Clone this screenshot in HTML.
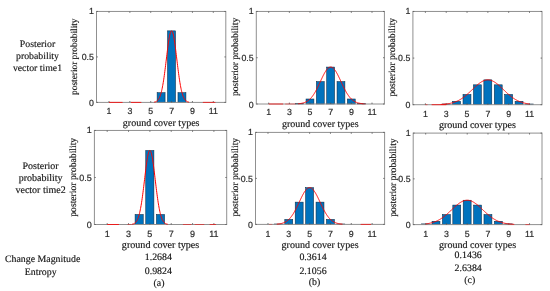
<!DOCTYPE html>
<html><head><meta charset="utf-8"><title>Figure</title>
<style>
html,body{margin:0;padding:0;background:#fff}
svg{display:block;text-rendering:geometricPrecision}
.t{font-family:"Liberation Sans",sans-serif;font-size:8.8px;fill:#2b2b2b;stroke:#2b2b2b;stroke-width:0.2px}
.s{font-family:"Liberation Serif",serif;font-size:9.8px;fill:#141414;stroke:#141414;stroke-width:0.15px}
.b{font-family:"Liberation Serif",serif;font-size:9.9px;fill:#141414;stroke:#141414;stroke-width:0.15px}
</style></head><body>
<svg width="550" height="291" viewBox="0 0 550 291">
<rect width="550" height="291" fill="#fff"/>
<g>
<rect x="157.13" y="92.72" width="7.94" height="9.68" fill="#0072BD" stroke="#0b2a45" stroke-width="0.55"/>
<rect x="167.56" y="30.86" width="7.94" height="71.54" fill="#0072BD" stroke="#0b2a45" stroke-width="0.55"/>
<rect x="177.98" y="92.72" width="7.94" height="9.68" fill="#0072BD" stroke="#0b2a45" stroke-width="0.55"/>
<rect x="96.50" y="11.45" width="129.30" height="90.95" fill="none" stroke="#909090" stroke-width="1"/>
<path d="M109.01 102.40v-1.4M109.01 11.45v1.4M129.87 102.40v-1.4M129.87 11.45v1.4M150.72 102.40v-1.4M150.72 11.45v1.4M171.58 102.40v-1.4M171.58 11.45v1.4M192.43 102.40v-1.4M192.43 11.45v1.4M213.29 102.40v-1.4M213.29 11.45v1.4M96.50 102.40h1.4M225.80 102.40h-1.4M96.50 56.93h1.4M225.80 56.93h-1.4M96.50 11.45h1.4M225.80 11.45h-1.4" stroke="#555" stroke-width="0.8" fill="none"/>
<line x1="109.01" y1="102.40" x2="122.57" y2="102.40" stroke="#f00" stroke-width="1" stroke-opacity="0.8"/>
<line x1="130.91" y1="102.40" x2="141.34" y2="102.40" stroke="#f00" stroke-width="1" stroke-opacity="0.8"/>
<line x1="202.86" y1="102.40" x2="215.37" y2="102.40" stroke="#f00" stroke-width="1" stroke-opacity="0.7"/>
<polyline points="154.11,102.14 154.37,102.09 154.63,102.04 154.89,101.97 155.15,101.90 155.41,101.81 155.68,101.72 155.94,101.61 156.20,101.48 156.46,101.33 156.72,101.17 156.98,100.98 157.24,100.77 157.50,100.53 157.76,100.26 158.02,99.96 158.28,99.63 158.54,99.26 158.80,98.84 159.06,98.38 159.33,97.88 159.59,97.32 159.85,96.71 160.11,96.04 160.37,95.31 160.63,94.51 160.89,93.65 161.15,92.72 161.41,91.71 161.67,90.63 161.93,89.48 162.19,88.24 162.45,86.93 162.71,85.54 162.97,84.06 163.24,82.51 163.50,80.88 163.76,79.17 164.02,77.40 164.28,75.55 164.54,73.64 164.80,71.67 165.06,69.65 165.32,67.58 165.58,65.47 165.84,63.33 166.10,61.18 166.36,59.01 166.62,56.84 166.89,54.69 167.15,52.55 167.41,50.45 167.67,48.40 167.93,46.41 168.19,44.48 168.45,42.65 168.71,40.90 168.97,39.27 169.23,37.75 169.49,36.36 169.75,35.11 170.01,34.01 170.27,33.06 170.53,32.28 170.80,31.66 171.06,31.22 171.32,30.95 171.58,30.86 171.84,30.95 172.10,31.22 172.36,31.66 172.62,32.28 172.88,33.06 173.14,34.01 173.40,35.11 173.66,36.36 173.92,37.75 174.18,39.27 174.44,40.90 174.71,42.65 174.97,44.48 175.23,46.41 175.49,48.40 175.75,50.45 176.01,52.55 176.27,54.69 176.53,56.84 176.79,59.01 177.05,61.18 177.31,63.33 177.57,65.47 177.83,67.58 178.09,69.65 178.36,71.67 178.62,73.64 178.88,75.55 179.14,77.40 179.40,79.17 179.66,80.88 179.92,82.51 180.18,84.06 180.44,85.54 180.70,86.93 180.96,88.24 181.22,89.48 181.48,90.63 181.74,91.71 182.00,92.72 182.27,93.65 182.53,94.51 182.79,95.31 183.05,96.04 183.31,96.71 183.57,97.32 183.83,97.88 184.09,98.38 184.35,98.84 184.61,99.26 184.87,99.63 185.13,99.96 185.39,100.26 185.65,100.53 185.92,100.77 186.18,100.98 186.44,101.17 186.70,101.33 186.96,101.48 187.22,101.61 187.48,101.72 187.74,101.81 188.00,101.90 188.26,101.97 188.52,102.04 188.78,102.09 189.04,102.14" fill="none" stroke="#f00" stroke-width="1" stroke-linejoin="round"/>
<text x="109.01" y="113.90" class="t" style="font-size:8.80px" text-anchor="middle">1</text>
<text x="129.87" y="113.90" class="t" style="font-size:8.80px" text-anchor="middle">3</text>
<text x="150.72" y="113.90" class="t" style="font-size:8.80px" text-anchor="middle">5</text>
<text x="171.58" y="113.90" class="t" style="font-size:8.80px" text-anchor="middle">7</text>
<text x="192.43" y="113.90" class="t" style="font-size:8.80px" text-anchor="middle">9</text>
<text x="213.29" y="113.90" class="t" style="font-size:8.80px" text-anchor="middle">11</text>
<text x="93.90" y="105.95" class="t" style="font-size:8.80px" text-anchor="end">0</text>
<text x="93.90" y="60.18" class="t" style="font-size:8.80px" text-anchor="end">0.5</text>
<text x="93.90" y="14.40" class="t" style="font-size:8.80px" text-anchor="end">1</text>
<text x="161.15" y="125.60" class="s" style="font-size:10.00px" text-anchor="middle">ground cover types</text>
<text transform="translate(76.78,56.70) rotate(-90)" class="s" style="font-size:9.34px" text-anchor="middle">posterior probability</text>
</g>
<g>
<rect x="295.71" y="103.59" width="7.86" height="0.41" fill="#0072BD" stroke="#0b2a45" stroke-width="0.55"/>
<rect x="306.04" y="99.00" width="7.86" height="5.00" fill="#0072BD" stroke="#0b2a45" stroke-width="0.55"/>
<rect x="316.37" y="81.61" width="7.86" height="22.39" fill="#0072BD" stroke="#0b2a45" stroke-width="0.55"/>
<rect x="326.70" y="67.08" width="7.86" height="36.92" fill="#0072BD" stroke="#0b2a45" stroke-width="0.55"/>
<rect x="337.03" y="81.61" width="7.86" height="22.39" fill="#0072BD" stroke="#0b2a45" stroke-width="0.55"/>
<rect x="347.36" y="99.00" width="7.86" height="5.00" fill="#0072BD" stroke="#0b2a45" stroke-width="0.55"/>
<rect x="357.69" y="103.59" width="7.86" height="0.41" fill="#0072BD" stroke="#0b2a45" stroke-width="0.55"/>
<rect x="256.30" y="11.45" width="128.10" height="92.55" fill="none" stroke="#909090" stroke-width="1"/>
<path d="M268.70 104.00v-1.4M268.70 11.45v1.4M289.36 104.00v-1.4M289.36 11.45v1.4M310.02 104.00v-1.4M310.02 11.45v1.4M330.68 104.00v-1.4M330.68 11.45v1.4M351.34 104.00v-1.4M351.34 11.45v1.4M372.00 104.00v-1.4M372.00 11.45v1.4M256.30 104.00h1.4M384.40 104.00h-1.4M256.30 57.73h1.4M384.40 57.73h-1.4M256.30 11.45h1.4M384.40 11.45h-1.4" stroke="#555" stroke-width="0.8" fill="none"/>
<line x1="268.70" y1="104.00" x2="283.16" y2="104.00" stroke="#f00" stroke-width="1" stroke-opacity="0.75"/>
<line x1="285.23" y1="104.00" x2="295.56" y2="104.00" stroke="#f00" stroke-width="1" stroke-opacity="0.45"/>
<line x1="362.71" y1="104.00" x2="365.80" y2="104.00" stroke="#f00" stroke-width="1" stroke-opacity="0.4"/>
<polyline points="298.14,103.74 298.40,103.72 298.66,103.70 298.91,103.67 299.17,103.65 299.43,103.62 299.69,103.59 299.95,103.56 300.21,103.52 300.46,103.49 300.72,103.45 300.98,103.41 301.24,103.36 301.50,103.32 301.75,103.27 302.01,103.21 302.27,103.16 302.53,103.10 302.79,103.04 303.05,102.97 303.30,102.90 303.56,102.82 303.82,102.74 304.08,102.66 304.34,102.57 304.60,102.48 304.85,102.38 305.11,102.27 305.37,102.16 305.63,102.05 305.89,101.93 306.15,101.80 306.40,101.67 306.66,101.53 306.92,101.38 307.18,101.22 307.44,101.06 307.69,100.89 307.95,100.72 308.21,100.53 308.47,100.34 308.73,100.14 308.99,99.93 309.24,99.71 309.50,99.48 309.76,99.25 310.02,99.00 310.28,98.75 310.54,98.48 310.79,98.21 311.05,97.93 311.31,97.63 311.57,97.33 311.83,97.02 312.09,96.69 312.34,96.36 312.60,96.02 312.86,95.66 313.12,95.30 313.38,94.92 313.64,94.54 313.89,94.14 314.15,93.73 314.41,93.32 314.67,92.89 314.93,92.46 315.18,92.01 315.44,91.56 315.70,91.10 315.96,90.62 316.22,90.14 316.48,89.65 316.73,89.16 316.99,88.65 317.25,88.14 317.51,87.62 317.77,87.10 318.03,86.56 318.28,86.03 318.54,85.49 318.80,84.94 319.06,84.39 319.32,83.84 319.58,83.28 319.83,82.72 320.09,82.17 320.35,81.61 320.61,81.05 320.87,80.49 321.12,79.93 321.38,79.37 321.64,78.82 321.90,78.27 322.16,77.73 322.42,77.19 322.67,76.66 322.93,76.13 323.19,75.61 323.45,75.10 323.71,74.60 323.97,74.11 324.22,73.63 324.48,73.16 324.74,72.70 325.00,72.26 325.26,71.83 325.52,71.42 325.77,71.02 326.03,70.63 326.29,70.27 326.55,69.92 326.81,69.58 327.06,69.27 327.32,68.98 327.58,68.70 327.84,68.45 328.10,68.21 328.36,68.00 328.61,67.81 328.87,67.64 329.13,67.49 329.39,67.37 329.65,67.26 329.91,67.18 330.16,67.12 330.42,67.09 330.68,67.08 330.94,67.09 331.20,67.12 331.46,67.18 331.71,67.26 331.97,67.37 332.23,67.49 332.49,67.64 332.75,67.81 333.01,68.00 333.26,68.21 333.52,68.45 333.78,68.70 334.04,68.98 334.30,69.27 334.55,69.58 334.81,69.92 335.07,70.27 335.33,70.63 335.59,71.02 335.85,71.42 336.10,71.83 336.36,72.26 336.62,72.70 336.88,73.16 337.14,73.63 337.40,74.11 337.65,74.60 337.91,75.10 338.17,75.61 338.43,76.13 338.69,76.66 338.95,77.19 339.20,77.73 339.46,78.27 339.72,78.82 339.98,79.37 340.24,79.93 340.49,80.49 340.75,81.05 341.01,81.61 341.27,82.17 341.53,82.72 341.79,83.28 342.04,83.84 342.30,84.39 342.56,84.94 342.82,85.49 343.08,86.03 343.34,86.56 343.59,87.10 343.85,87.62 344.11,88.14 344.37,88.65 344.63,89.16 344.89,89.65 345.14,90.14 345.40,90.62 345.66,91.10 345.92,91.56 346.18,92.01 346.43,92.46 346.69,92.89 346.95,93.32 347.21,93.73 347.47,94.14 347.73,94.54 347.98,94.92 348.24,95.30 348.50,95.66 348.76,96.02 349.02,96.36 349.28,96.69 349.53,97.02 349.79,97.33 350.05,97.63 350.31,97.93 350.57,98.21 350.83,98.48 351.08,98.75 351.34,99.00 351.60,99.25 351.86,99.48 352.12,99.71 352.38,99.93 352.63,100.14 352.89,100.34 353.15,100.53 353.41,100.72 353.67,100.89 353.92,101.06 354.18,101.22 354.44,101.38 354.70,101.53 354.96,101.67 355.22,101.80 355.47,101.93 355.73,102.05 355.99,102.16 356.25,102.27 356.51,102.38 356.77,102.48 357.02,102.57 357.28,102.66 357.54,102.74 357.80,102.82 358.06,102.90 358.32,102.97 358.57,103.04 358.83,103.10 359.09,103.16 359.35,103.21 359.61,103.27 359.86,103.32 360.12,103.36 360.38,103.41 360.64,103.45 360.90,103.49 361.16,103.52 361.41,103.56 361.67,103.59 361.93,103.62 362.19,103.65 362.45,103.67 362.71,103.70 362.96,103.72 363.22,103.74" fill="none" stroke="#f00" stroke-width="1" stroke-linejoin="round"/>
<text x="268.70" y="115.40" class="t" style="font-size:8.80px" text-anchor="middle">1</text>
<text x="289.36" y="115.40" class="t" style="font-size:8.80px" text-anchor="middle">3</text>
<text x="310.02" y="115.40" class="t" style="font-size:8.80px" text-anchor="middle">5</text>
<text x="330.68" y="115.40" class="t" style="font-size:8.80px" text-anchor="middle">7</text>
<text x="351.34" y="115.40" class="t" style="font-size:8.80px" text-anchor="middle">9</text>
<text x="372.00" y="115.40" class="t" style="font-size:8.80px" text-anchor="middle">11</text>
<text x="253.70" y="107.55" class="t" style="font-size:8.80px" text-anchor="end">0</text>
<text x="253.70" y="60.98" class="t" style="font-size:8.80px" text-anchor="end">0.5</text>
<text x="253.70" y="14.40" class="t" style="font-size:8.80px" text-anchor="end">1</text>
<text x="320.35" y="127.20" class="s" style="font-size:10.00px" text-anchor="middle">ground cover types</text>
<text transform="translate(237.82,56.90) rotate(-90)" class="s" style="font-size:9.54px" text-anchor="middle">posterior probability</text>
</g>
<g>
<rect x="442.20" y="103.99" width="7.93" height="0.71" fill="#0072BD" stroke="#0b2a45" stroke-width="0.55"/>
<rect x="452.61" y="101.34" width="7.93" height="3.36" fill="#0072BD" stroke="#0b2a45" stroke-width="0.55"/>
<rect x="463.02" y="94.49" width="7.93" height="10.21" fill="#0072BD" stroke="#0b2a45" stroke-width="0.55"/>
<rect x="473.44" y="84.82" width="7.93" height="19.88" fill="#0072BD" stroke="#0b2a45" stroke-width="0.55"/>
<rect x="483.85" y="79.87" width="7.93" height="24.83" fill="#0072BD" stroke="#0b2a45" stroke-width="0.55"/>
<rect x="494.26" y="84.82" width="7.93" height="19.88" fill="#0072BD" stroke="#0b2a45" stroke-width="0.55"/>
<rect x="504.67" y="94.49" width="7.93" height="10.21" fill="#0072BD" stroke="#0b2a45" stroke-width="0.55"/>
<rect x="515.08" y="101.34" width="7.93" height="3.36" fill="#0072BD" stroke="#0b2a45" stroke-width="0.55"/>
<rect x="525.49" y="103.99" width="7.93" height="0.71" fill="#0072BD" stroke="#0b2a45" stroke-width="0.55"/>
<rect x="412.90" y="11.45" width="129.10" height="93.25" fill="none" stroke="#909090" stroke-width="1"/>
<path d="M425.39 104.70v-1.4M425.39 11.45v1.4M446.22 104.70v-1.4M446.22 11.45v1.4M467.04 104.70v-1.4M467.04 11.45v1.4M487.86 104.70v-1.4M487.86 11.45v1.4M508.68 104.70v-1.4M508.68 11.45v1.4M529.51 104.70v-1.4M529.51 11.45v1.4M412.90 104.70h1.4M542.00 104.70h-1.4M412.90 58.08h1.4M542.00 58.08h-1.4M412.90 11.45h1.4M542.00 11.45h-1.4" stroke="#555" stroke-width="0.8" fill="none"/>
<line x1="425.39" y1="104.70" x2="427.48" y2="104.70" stroke="#f00" stroke-width="1" stroke-opacity="0.5"/>
<line x1="431.64" y1="104.70" x2="446.22" y2="104.70" stroke="#f00" stroke-width="1" stroke-opacity="0.75"/>
<polyline points="440.75,104.44 441.01,104.42 441.27,104.41 441.53,104.40 441.79,104.38 442.05,104.36 442.31,104.35 442.57,104.33 442.83,104.31 443.09,104.29 443.35,104.27 443.61,104.25 443.87,104.23 444.13,104.21 444.39,104.18 444.65,104.16 444.91,104.13 445.18,104.11 445.44,104.08 445.70,104.05 445.96,104.02 446.22,103.99 446.48,103.96 446.74,103.93 447.00,103.89 447.26,103.85 447.52,103.82 447.78,103.78 448.04,103.74 448.30,103.70 448.56,103.65 448.82,103.61 449.08,103.56 449.34,103.51 449.60,103.47 449.86,103.41 450.12,103.36 450.38,103.31 450.64,103.25 450.90,103.19 451.16,103.13 451.42,103.07 451.68,103.00 451.94,102.94 452.20,102.87 452.46,102.80 452.72,102.72 452.98,102.65 453.24,102.57 453.50,102.49 453.76,102.41 454.02,102.33 454.28,102.24 454.55,102.15 454.81,102.06 455.07,101.96 455.33,101.87 455.59,101.77 455.85,101.66 456.11,101.56 456.37,101.45 456.63,101.34 456.89,101.23 457.15,101.11 457.41,100.99 457.67,100.87 457.93,100.74 458.19,100.62 458.45,100.49 458.71,100.35 458.97,100.21 459.23,100.08 459.49,99.93 459.75,99.79 460.01,99.64 460.27,99.49 460.53,99.33 460.79,99.17 461.05,99.01 461.31,98.85 461.57,98.68 461.83,98.51 462.09,98.34 462.35,98.16 462.61,97.98 462.87,97.80 463.13,97.61 463.39,97.42 463.66,97.23 463.92,97.04 464.18,96.84 464.44,96.64 464.70,96.44 464.96,96.23 465.22,96.02 465.48,95.81 465.74,95.60 466.00,95.38 466.26,95.16 466.52,94.94 466.78,94.72 467.04,94.49 467.30,94.26 467.56,94.03 467.82,93.80 468.08,93.57 468.34,93.33 468.60,93.09 468.86,92.86 469.12,92.61 469.38,92.37 469.64,92.13 469.90,91.88 470.16,91.64 470.42,91.39 470.68,91.14 470.94,90.89 471.20,90.64 471.46,90.39 471.72,90.14 471.98,89.89 472.24,89.64 472.50,89.39 472.76,89.14 473.03,88.89 473.29,88.64 473.55,88.39 473.81,88.14 474.07,87.89 474.33,87.64 474.59,87.40 474.85,87.15 475.11,86.91 475.37,86.67 475.63,86.43 475.89,86.19 476.15,85.96 476.41,85.73 476.67,85.49 476.93,85.27 477.19,85.04 477.45,84.82 477.71,84.60 477.97,84.38 478.23,84.17 478.49,83.96 478.75,83.76 479.01,83.55 479.27,83.36 479.53,83.16 479.79,82.97 480.05,82.79 480.31,82.61 480.57,82.43 480.83,82.26 481.09,82.10 481.35,81.94 481.61,81.78 481.87,81.63 482.14,81.49 482.40,81.35 482.66,81.21 482.92,81.09 483.18,80.96 483.44,80.85 483.70,80.74 483.96,80.63 484.22,80.54 484.48,80.45 484.74,80.36 485.00,80.28 485.26,80.21 485.52,80.15 485.78,80.09 486.04,80.04 486.30,79.99 486.56,79.96 486.82,79.93 487.08,79.90 487.34,79.88 487.60,79.87 487.86,79.87 488.12,79.87 488.38,79.88 488.64,79.90 488.90,79.93 489.16,79.96 489.42,79.99 489.68,80.04 489.94,80.09 490.20,80.15 490.46,80.21 490.72,80.28 490.98,80.36 491.24,80.45 491.51,80.54 491.77,80.63 492.03,80.74 492.29,80.85 492.55,80.96 492.81,81.09 493.07,81.21 493.33,81.35 493.59,81.49 493.85,81.63 494.11,81.78 494.37,81.94 494.63,82.10 494.89,82.26 495.15,82.43 495.41,82.61 495.67,82.79 495.93,82.97 496.19,83.16 496.45,83.36 496.71,83.55 496.97,83.76 497.23,83.96 497.49,84.17 497.75,84.38 498.01,84.60 498.27,84.82 498.53,85.04 498.79,85.27 499.05,85.49 499.31,85.73 499.57,85.96 499.83,86.19 500.09,86.43 500.35,86.67 500.62,86.91 500.88,87.15 501.14,87.40 501.40,87.64 501.66,87.89 501.92,88.14 502.18,88.39 502.44,88.64 502.70,88.89 502.96,89.14 503.22,89.39 503.48,89.64 503.74,89.89 504.00,90.14 504.26,90.39 504.52,90.64 504.78,90.89 505.04,91.14 505.30,91.39 505.56,91.64 505.82,91.88 506.08,92.13 506.34,92.37 506.60,92.61 506.86,92.86 507.12,93.09 507.38,93.33 507.64,93.57 507.90,93.80 508.16,94.03 508.42,94.26 508.68,94.49 508.94,94.72 509.20,94.94 509.46,95.16 509.73,95.38 509.99,95.60 510.25,95.81 510.51,96.02 510.77,96.23 511.03,96.44 511.29,96.64 511.55,96.84 511.81,97.04 512.07,97.23 512.33,97.42 512.59,97.61 512.85,97.80 513.11,97.98 513.37,98.16 513.63,98.34 513.89,98.51 514.15,98.68 514.41,98.85 514.67,99.01 514.93,99.17 515.19,99.33 515.45,99.49 515.71,99.64 515.97,99.79 516.23,99.93 516.49,100.08 516.75,100.21 517.01,100.35 517.27,100.49 517.53,100.62 517.79,100.74 518.05,100.87 518.31,100.99 518.57,101.11 518.83,101.23 519.10,101.34 519.36,101.45 519.62,101.56 519.88,101.66 520.14,101.77 520.40,101.87 520.66,101.96 520.92,102.06 521.18,102.15 521.44,102.24 521.70,102.33 521.96,102.41 522.22,102.49 522.48,102.57 522.74,102.65 523.00,102.72 523.26,102.80 523.52,102.87 523.78,102.94 524.04,103.00 524.30,103.07 524.56,103.13 524.82,103.19 525.08,103.25 525.34,103.31 525.60,103.36 525.86,103.41 526.12,103.47 526.38,103.51 526.64,103.56 526.90,103.61 527.16,103.65 527.42,103.70 527.68,103.74 527.94,103.78 528.21,103.82 528.47,103.85 528.73,103.89 528.99,103.93 529.25,103.96 529.51,103.99" fill="none" stroke="#f00" stroke-width="1" stroke-linejoin="round"/>
<text x="425.39" y="116.80" class="t" style="font-size:8.80px" text-anchor="middle">1</text>
<text x="446.22" y="116.80" class="t" style="font-size:8.80px" text-anchor="middle">3</text>
<text x="467.04" y="116.80" class="t" style="font-size:8.80px" text-anchor="middle">5</text>
<text x="487.86" y="116.80" class="t" style="font-size:8.80px" text-anchor="middle">7</text>
<text x="508.68" y="116.80" class="t" style="font-size:8.80px" text-anchor="middle">9</text>
<text x="529.51" y="116.80" class="t" style="font-size:8.80px" text-anchor="middle">11</text>
<text x="410.30" y="108.25" class="t" style="font-size:8.80px" text-anchor="end">0</text>
<text x="410.30" y="61.33" class="t" style="font-size:8.80px" text-anchor="end">0.5</text>
<text x="410.30" y="14.40" class="t" style="font-size:8.80px" text-anchor="end">1</text>
<text x="477.45" y="127.90" class="s" style="font-size:10.05px" text-anchor="middle">ground cover types</text>
<text transform="translate(394.96,57.20) rotate(-90)" class="s" style="font-size:9.61px" text-anchor="middle">posterior probability</text>
</g>
<g>
<rect x="135.09" y="214.49" width="8.14" height="10.01" fill="#0072BD" stroke="#0b2a45" stroke-width="0.55"/>
<rect x="145.76" y="150.52" width="8.14" height="73.98" fill="#0072BD" stroke="#0b2a45" stroke-width="0.55"/>
<rect x="156.43" y="214.49" width="8.14" height="10.01" fill="#0072BD" stroke="#0b2a45" stroke-width="0.55"/>
<rect x="94.40" y="130.45" width="132.30" height="94.05" fill="none" stroke="#909090" stroke-width="1"/>
<path d="M107.20 224.50v-1.4M107.20 130.45v1.4M128.54 224.50v-1.4M128.54 130.45v1.4M149.88 224.50v-1.4M149.88 130.45v1.4M171.22 224.50v-1.4M171.22 130.45v1.4M192.56 224.50v-1.4M192.56 130.45v1.4M213.90 224.50v-1.4M213.90 130.45v1.4M94.40 224.50h1.4M226.70 224.50h-1.4M94.40 177.47h1.4M226.70 177.47h-1.4M94.40 130.45h1.4M226.70 130.45h-1.4" stroke="#555" stroke-width="0.8" fill="none"/>
<line x1="107.20" y1="224.50" x2="118.94" y2="224.50" stroke="#f00" stroke-width="1" stroke-opacity="0.8"/>
<line x1="127.48" y1="224.50" x2="131.74" y2="224.50" stroke="#f00" stroke-width="1" stroke-opacity="0.4"/>
<line x1="182.96" y1="224.50" x2="191.49" y2="224.50" stroke="#f00" stroke-width="1" stroke-opacity="0.5"/>
<line x1="194.69" y1="224.50" x2="204.29" y2="224.50" stroke="#f00" stroke-width="1" stroke-opacity="0.5"/>
<line x1="209.63" y1="224.50" x2="216.03" y2="224.50" stroke="#f00" stroke-width="1" stroke-opacity="0.6"/>
<polyline points="132.01,224.23 132.28,224.18 132.54,224.12 132.81,224.06 133.08,223.98 133.34,223.89 133.61,223.79 133.88,223.68 134.14,223.55 134.41,223.40 134.68,223.23 134.94,223.03 135.21,222.81 135.48,222.57 135.74,222.29 136.01,221.98 136.28,221.64 136.54,221.25 136.81,220.82 137.08,220.35 137.34,219.82 137.61,219.25 137.88,218.61 138.14,217.92 138.41,217.17 138.68,216.34 138.94,215.45 139.21,214.49 139.48,213.45 139.74,212.33 140.01,211.14 140.28,209.86 140.54,208.50 140.81,207.06 141.08,205.54 141.35,203.93 141.61,202.25 141.88,200.48 142.15,198.65 142.41,196.74 142.68,194.76 142.95,192.72 143.21,190.63 143.48,188.49 143.75,186.31 144.01,184.10 144.28,181.87 144.55,179.63 144.81,177.39 145.08,175.16 145.35,172.95 145.61,170.78 145.88,168.66 146.15,166.60 146.41,164.61 146.68,162.71 146.95,160.91 147.21,159.22 147.48,157.65 147.75,156.21 148.01,154.92 148.28,153.78 148.55,152.80 148.81,151.99 149.08,151.35 149.35,150.89 149.61,150.62 149.88,150.52 150.15,150.62 150.41,150.89 150.68,151.35 150.95,151.99 151.21,152.80 151.48,153.78 151.75,154.92 152.01,156.21 152.28,157.65 152.55,159.22 152.81,160.91 153.08,162.71 153.35,164.61 153.61,166.60 153.88,168.66 154.15,170.78 154.42,172.95 154.68,175.16 154.95,177.39 155.22,179.63 155.48,181.87 155.75,184.10 156.02,186.31 156.28,188.49 156.55,190.63 156.82,192.72 157.08,194.76 157.35,196.74 157.62,198.65 157.88,200.48 158.15,202.25 158.42,203.93 158.68,205.54 158.95,207.06 159.22,208.50 159.48,209.86 159.75,211.14 160.02,212.33 160.28,213.45 160.55,214.49 160.82,215.45 161.08,216.34 161.35,217.17 161.62,217.92 161.88,218.61 162.15,219.25 162.42,219.82 162.68,220.35 162.95,220.82 163.22,221.25 163.48,221.64 163.75,221.98 164.02,222.29 164.28,222.57 164.55,222.81 164.82,223.03 165.08,223.23 165.35,223.40 165.62,223.55 165.88,223.68 166.15,223.79 166.42,223.89 166.68,223.98 166.95,224.06 167.22,224.12 167.49,224.18 167.75,224.23" fill="none" stroke="#f00" stroke-width="1" stroke-linejoin="round"/>
<text x="107.20" y="237.10" class="t" style="font-size:9.00px" text-anchor="middle">1</text>
<text x="128.54" y="237.10" class="t" style="font-size:9.00px" text-anchor="middle">3</text>
<text x="149.88" y="237.10" class="t" style="font-size:9.00px" text-anchor="middle">5</text>
<text x="171.22" y="237.10" class="t" style="font-size:9.00px" text-anchor="middle">7</text>
<text x="192.56" y="237.10" class="t" style="font-size:9.00px" text-anchor="middle">9</text>
<text x="213.90" y="237.10" class="t" style="font-size:9.00px" text-anchor="middle">11</text>
<text x="91.80" y="228.12" class="t" style="font-size:9.00px" text-anchor="end">0</text>
<text x="91.80" y="180.80" class="t" style="font-size:9.00px" text-anchor="end">0.5</text>
<text x="91.80" y="133.47" class="t" style="font-size:9.00px" text-anchor="end">1</text>
<text x="160.55" y="248.30" class="s" style="font-size:10.10px" text-anchor="middle">ground cover types</text>
<text transform="translate(76.09,177.30) rotate(-90)" class="s" style="font-size:9.65px" text-anchor="middle">posterior probability</text>
</g>
<g>
<rect x="274.39" y="223.99" width="7.93" height="0.41" fill="#0072BD" stroke="#0b2a45" stroke-width="0.55"/>
<rect x="284.80" y="219.43" width="7.93" height="4.97" fill="#0072BD" stroke="#0b2a45" stroke-width="0.55"/>
<rect x="295.21" y="202.14" width="7.93" height="22.26" fill="#0072BD" stroke="#0b2a45" stroke-width="0.55"/>
<rect x="305.62" y="187.70" width="7.93" height="36.70" fill="#0072BD" stroke="#0b2a45" stroke-width="0.55"/>
<rect x="316.04" y="202.14" width="7.93" height="22.26" fill="#0072BD" stroke="#0b2a45" stroke-width="0.55"/>
<rect x="326.45" y="219.43" width="7.93" height="4.97" fill="#0072BD" stroke="#0b2a45" stroke-width="0.55"/>
<rect x="336.86" y="223.99" width="7.93" height="0.41" fill="#0072BD" stroke="#0b2a45" stroke-width="0.55"/>
<rect x="255.50" y="132.40" width="129.10" height="92.00" fill="none" stroke="#909090" stroke-width="1"/>
<path d="M267.99 224.40v-1.4M267.99 132.40v1.4M288.82 224.40v-1.4M288.82 132.40v1.4M309.64 224.40v-1.4M309.64 132.40v1.4M330.46 224.40v-1.4M330.46 132.40v1.4M351.28 224.40v-1.4M351.28 132.40v1.4M372.11 224.40v-1.4M372.11 132.40v1.4M255.50 224.40h1.4M384.60 224.40h-1.4M255.50 178.40h1.4M384.60 178.40h-1.4M255.50 132.40h1.4M384.60 132.40h-1.4" stroke="#555" stroke-width="0.8" fill="none"/>
<line x1="269.03" y1="224.40" x2="272.16" y2="224.40" stroke="#f00" stroke-width="1" stroke-opacity="0.3"/>
<line x1="360.65" y1="224.40" x2="371.07" y2="224.40" stroke="#f00" stroke-width="1" stroke-opacity="0.7"/>
<polyline points="276.84,224.14 277.10,224.12 277.36,224.10 277.62,224.08 277.88,224.05 278.14,224.02 278.40,223.99 278.67,223.96 278.93,223.93 279.19,223.89 279.45,223.85 279.71,223.81 279.97,223.77 280.23,223.72 280.49,223.67 280.75,223.62 281.01,223.56 281.27,223.50 281.53,223.44 281.79,223.37 282.05,223.30 282.31,223.23 282.57,223.15 282.83,223.07 283.09,222.98 283.35,222.89 283.61,222.79 283.87,222.68 284.13,222.57 284.39,222.46 284.65,222.34 284.91,222.21 285.17,222.08 285.43,221.94 285.69,221.79 285.95,221.64 286.21,221.48 286.47,221.31 286.73,221.14 286.99,220.95 287.25,220.76 287.51,220.56 287.78,220.35 288.04,220.14 288.30,219.91 288.56,219.68 288.82,219.43 289.08,219.18 289.34,218.92 289.60,218.65 289.86,218.36 290.12,218.07 290.38,217.77 290.64,217.46 290.90,217.14 291.16,216.80 291.42,216.46 291.68,216.11 291.94,215.75 292.20,215.37 292.46,214.99 292.72,214.60 292.98,214.20 293.24,213.78 293.50,213.36 293.76,212.93 294.02,212.48 294.28,212.03 294.54,211.57 294.80,211.10 295.06,210.63 295.32,210.14 295.58,209.64 295.84,209.14 296.10,208.63 296.36,208.12 296.62,207.60 296.88,207.07 297.15,206.53 297.41,206.00 297.67,205.45 297.93,204.91 298.19,204.36 298.45,203.81 298.71,203.25 298.97,202.70 299.23,202.14 299.49,201.58 299.75,201.03 300.01,200.47 300.27,199.92 300.53,199.37 300.79,198.83 301.05,198.28 301.31,197.75 301.57,197.22 301.83,196.70 302.09,196.18 302.35,195.67 302.61,195.17 302.87,194.69 303.13,194.21 303.39,193.74 303.65,193.29 303.91,192.85 304.17,192.42 304.43,192.01 304.69,191.61 304.95,191.23 305.21,190.87 305.47,190.52 305.73,190.19 305.99,189.88 306.26,189.59 306.52,189.31 306.78,189.06 307.04,188.83 307.30,188.61 307.56,188.42 307.82,188.25 308.08,188.11 308.34,187.98 308.60,187.88 308.86,187.80 309.12,187.74 309.38,187.71 309.64,187.70 309.90,187.71 310.16,187.74 310.42,187.80 310.68,187.88 310.94,187.98 311.20,188.11 311.46,188.25 311.72,188.42 311.98,188.61 312.24,188.83 312.50,189.06 312.76,189.31 313.02,189.59 313.28,189.88 313.54,190.19 313.80,190.52 314.06,190.87 314.32,191.23 314.58,191.61 314.84,192.01 315.10,192.42 315.36,192.85 315.63,193.29 315.89,193.74 316.15,194.21 316.41,194.69 316.67,195.17 316.93,195.67 317.19,196.18 317.45,196.70 317.71,197.22 317.97,197.75 318.23,198.28 318.49,198.83 318.75,199.37 319.01,199.92 319.27,200.47 319.53,201.03 319.79,201.58 320.05,202.14 320.31,202.70 320.57,203.25 320.83,203.81 321.09,204.36 321.35,204.91 321.61,205.45 321.87,206.00 322.13,206.53 322.39,207.07 322.65,207.60 322.91,208.12 323.17,208.63 323.43,209.14 323.69,209.64 323.95,210.14 324.21,210.63 324.47,211.10 324.74,211.57 325.00,212.03 325.26,212.48 325.52,212.93 325.78,213.36 326.04,213.78 326.30,214.20 326.56,214.60 326.82,214.99 327.08,215.37 327.34,215.75 327.60,216.11 327.86,216.46 328.12,216.80 328.38,217.14 328.64,217.46 328.90,217.77 329.16,218.07 329.42,218.36 329.68,218.65 329.94,218.92 330.20,219.18 330.46,219.43 330.72,219.68 330.98,219.91 331.24,220.14 331.50,220.35 331.76,220.56 332.02,220.76 332.28,220.95 332.54,221.14 332.80,221.31 333.06,221.48 333.32,221.64 333.58,221.79 333.84,221.94 334.11,222.08 334.37,222.21 334.63,222.34 334.89,222.46 335.15,222.57 335.41,222.68 335.67,222.79 335.93,222.89 336.19,222.98 336.45,223.07 336.71,223.15 336.97,223.23 337.23,223.30 337.49,223.37 337.75,223.44 338.01,223.50 338.27,223.56 338.53,223.62 338.79,223.67 339.05,223.72 339.31,223.77 339.57,223.81 339.83,223.85 340.09,223.89 340.35,223.93 340.61,223.96 340.87,223.99 341.13,224.02 341.39,224.05 341.65,224.08 341.91,224.10 342.17,224.12 342.43,224.14" fill="none" stroke="#f00" stroke-width="1" stroke-linejoin="round"/>
<text x="267.99" y="236.80" class="t" style="font-size:8.80px" text-anchor="middle">1</text>
<text x="288.82" y="236.80" class="t" style="font-size:8.80px" text-anchor="middle">3</text>
<text x="309.64" y="236.80" class="t" style="font-size:8.80px" text-anchor="middle">5</text>
<text x="330.46" y="236.80" class="t" style="font-size:8.80px" text-anchor="middle">7</text>
<text x="351.28" y="236.80" class="t" style="font-size:8.80px" text-anchor="middle">9</text>
<text x="372.11" y="236.80" class="t" style="font-size:8.80px" text-anchor="middle">11</text>
<text x="252.90" y="227.95" class="t" style="font-size:8.80px" text-anchor="end">0</text>
<text x="252.90" y="181.65" class="t" style="font-size:8.80px" text-anchor="end">0.5</text>
<text x="252.90" y="135.35" class="t" style="font-size:8.80px" text-anchor="end">1</text>
<text x="320.05" y="248.40" class="s" style="font-size:10.05px" text-anchor="middle">ground cover types</text>
<text transform="translate(237.86,177.20) rotate(-90)" class="s" style="font-size:9.61px" text-anchor="middle">posterior probability</text>
</g>
<g>
<rect x="421.66" y="223.90" width="7.91" height="0.70" fill="#0072BD" stroke="#0b2a45" stroke-width="0.55"/>
<rect x="432.05" y="221.30" width="7.91" height="3.30" fill="#0072BD" stroke="#0b2a45" stroke-width="0.55"/>
<rect x="442.43" y="214.58" width="7.91" height="10.02" fill="#0072BD" stroke="#0b2a45" stroke-width="0.55"/>
<rect x="452.82" y="205.09" width="7.91" height="19.51" fill="#0072BD" stroke="#0b2a45" stroke-width="0.55"/>
<rect x="463.21" y="200.24" width="7.91" height="24.36" fill="#0072BD" stroke="#0b2a45" stroke-width="0.55"/>
<rect x="473.60" y="205.09" width="7.91" height="19.51" fill="#0072BD" stroke="#0b2a45" stroke-width="0.55"/>
<rect x="483.98" y="214.58" width="7.91" height="10.02" fill="#0072BD" stroke="#0b2a45" stroke-width="0.55"/>
<rect x="494.37" y="221.30" width="7.91" height="3.30" fill="#0072BD" stroke="#0b2a45" stroke-width="0.55"/>
<rect x="504.76" y="223.90" width="7.91" height="0.70" fill="#0072BD" stroke="#0b2a45" stroke-width="0.55"/>
<rect x="413.20" y="133.10" width="128.80" height="91.50" fill="none" stroke="#909090" stroke-width="1"/>
<path d="M425.66 224.60v-1.4M425.66 133.10v1.4M446.44 224.60v-1.4M446.44 133.10v1.4M467.21 224.60v-1.4M467.21 133.10v1.4M487.99 224.60v-1.4M487.99 133.10v1.4M508.76 224.60v-1.4M508.76 133.10v1.4M529.54 224.60v-1.4M529.54 133.10v1.4M413.20 224.60h1.4M542.00 224.60h-1.4M413.20 178.85h1.4M542.00 178.85h-1.4M413.20 133.10h1.4M542.00 133.10h-1.4" stroke="#555" stroke-width="0.8" fill="none"/>
<line x1="525.38" y1="224.60" x2="529.54" y2="224.60" stroke="#f00" stroke-width="1" stroke-opacity="0.5"/>
<polyline points="425.66,223.90 425.92,223.87 426.18,223.84 426.44,223.81 426.70,223.77 426.96,223.73 427.22,223.70 427.48,223.66 427.74,223.62 428.00,223.57 428.26,223.53 428.52,223.48 428.78,223.44 429.04,223.39 429.30,223.34 429.56,223.29 429.82,223.23 430.08,223.18 430.34,223.12 430.60,223.06 430.86,223.00 431.12,222.94 431.38,222.87 431.64,222.80 431.90,222.73 432.16,222.66 432.42,222.59 432.68,222.51 432.94,222.43 433.20,222.35 433.45,222.27 433.71,222.18 433.97,222.10 434.23,222.01 434.49,221.91 434.75,221.82 435.01,221.72 435.27,221.62 435.53,221.52 435.79,221.41 436.05,221.30 436.31,221.19 436.57,221.08 436.83,220.96 437.09,220.84 437.35,220.72 437.61,220.59 437.87,220.46 438.13,220.33 438.39,220.20 438.65,220.06 438.91,219.92 439.17,219.78 439.43,219.63 439.69,219.48 439.95,219.33 440.21,219.18 440.47,219.02 440.73,218.86 440.99,218.69 441.25,218.53 441.50,218.35 441.76,218.18 442.02,218.01 442.28,217.83 442.54,217.64 442.80,217.46 443.06,217.27 443.32,217.08 443.58,216.89 443.84,216.69 444.10,216.49 444.36,216.29 444.62,216.09 444.88,215.88 445.14,215.67 445.40,215.46 445.66,215.24 445.92,215.02 446.18,214.81 446.44,214.58 446.70,214.36 446.96,214.13 447.22,213.91 447.48,213.68 447.74,213.45 448.00,213.21 448.26,212.98 448.52,212.74 448.78,212.50 449.04,212.26 449.30,212.02 449.55,211.78 449.81,211.54 450.07,211.30 450.33,211.05 450.59,210.81 450.85,210.56 451.11,210.32 451.37,210.07 451.63,209.82 451.89,209.58 452.15,209.33 452.41,209.08 452.67,208.84 452.93,208.59 453.19,208.35 453.45,208.11 453.71,207.86 453.97,207.62 454.23,207.38 454.49,207.15 454.75,206.91 455.01,206.67 455.27,206.44 455.53,206.21 455.79,205.98 456.05,205.75 456.31,205.53 456.57,205.31 456.83,205.09 457.09,204.88 457.35,204.66 457.60,204.46 457.86,204.25 458.12,204.05 458.38,203.85 458.64,203.66 458.90,203.47 459.16,203.28 459.42,203.10 459.68,202.92 459.94,202.75 460.20,202.58 460.46,202.42 460.72,202.26 460.98,202.11 461.24,201.96 461.50,201.82 461.76,201.68 462.02,201.55 462.28,201.43 462.54,201.31 462.80,201.20 463.06,201.09 463.32,200.99 463.58,200.89 463.84,200.80 464.10,200.72 464.36,200.64 464.62,200.57 464.88,200.51 465.14,200.45 465.40,200.40 465.65,200.36 465.91,200.32 466.17,200.29 466.43,200.27 466.69,200.25 466.95,200.24 467.21,200.24 467.47,200.24 467.73,200.25 467.99,200.27 468.25,200.29 468.51,200.32 468.77,200.36 469.03,200.40 469.29,200.45 469.55,200.51 469.81,200.57 470.07,200.64 470.33,200.72 470.59,200.80 470.85,200.89 471.11,200.99 471.37,201.09 471.63,201.20 471.89,201.31 472.15,201.43 472.41,201.55 472.67,201.68 472.93,201.82 473.19,201.96 473.45,202.11 473.70,202.26 473.96,202.42 474.22,202.58 474.48,202.75 474.74,202.92 475.00,203.10 475.26,203.28 475.52,203.47 475.78,203.66 476.04,203.85 476.30,204.05 476.56,204.25 476.82,204.46 477.08,204.66 477.34,204.88 477.60,205.09 477.86,205.31 478.12,205.53 478.38,205.75 478.64,205.98 478.90,206.21 479.16,206.44 479.42,206.67 479.68,206.91 479.94,207.15 480.20,207.38 480.46,207.62 480.72,207.86 480.98,208.11 481.24,208.35 481.50,208.59 481.75,208.84 482.01,209.08 482.27,209.33 482.53,209.58 482.79,209.82 483.05,210.07 483.31,210.32 483.57,210.56 483.83,210.81 484.09,211.05 484.35,211.30 484.61,211.54 484.87,211.78 485.13,212.02 485.39,212.26 485.65,212.50 485.91,212.74 486.17,212.98 486.43,213.21 486.69,213.45 486.95,213.68 487.21,213.91 487.47,214.13 487.73,214.36 487.99,214.58 488.25,214.81 488.51,215.02 488.77,215.24 489.03,215.46 489.29,215.67 489.55,215.88 489.80,216.09 490.06,216.29 490.32,216.49 490.58,216.69 490.84,216.89 491.10,217.08 491.36,217.27 491.62,217.46 491.88,217.64 492.14,217.83 492.40,218.01 492.66,218.18 492.92,218.35 493.18,218.53 493.44,218.69 493.70,218.86 493.96,219.02 494.22,219.18 494.48,219.33 494.74,219.48 495.00,219.63 495.26,219.78 495.52,219.92 495.78,220.06 496.04,220.20 496.30,220.33 496.56,220.46 496.82,220.59 497.08,220.72 497.34,220.84 497.60,220.96 497.85,221.08 498.11,221.19 498.37,221.30 498.63,221.41 498.89,221.52 499.15,221.62 499.41,221.72 499.67,221.82 499.93,221.91 500.19,222.01 500.45,222.10 500.71,222.18 500.97,222.27 501.23,222.35 501.49,222.43 501.75,222.51 502.01,222.59 502.27,222.66 502.53,222.73 502.79,222.80 503.05,222.87 503.31,222.94 503.57,223.00 503.83,223.06 504.09,223.12 504.35,223.18 504.61,223.23 504.87,223.29 505.13,223.34 505.39,223.39 505.65,223.44 505.90,223.48 506.16,223.53 506.42,223.57 506.68,223.62 506.94,223.66 507.20,223.70 507.46,223.73 507.72,223.77 507.98,223.81 508.24,223.84 508.50,223.87 508.76,223.90 509.02,223.93 509.28,223.96 509.54,223.99 509.80,224.02 510.06,224.04 510.32,224.07 510.58,224.09 510.84,224.12 511.10,224.14 511.36,224.16 511.62,224.18 511.88,224.20 512.14,224.22 512.40,224.24 512.66,224.25 512.92,224.27 513.18,224.29 513.44,224.30 513.70,224.32 513.95,224.33 514.21,224.34" fill="none" stroke="#f00" stroke-width="1" stroke-linejoin="round"/>
<text x="425.66" y="237.00" class="t" style="font-size:8.80px" text-anchor="middle">1</text>
<text x="446.44" y="237.00" class="t" style="font-size:8.80px" text-anchor="middle">3</text>
<text x="467.21" y="237.00" class="t" style="font-size:8.80px" text-anchor="middle">5</text>
<text x="487.99" y="237.00" class="t" style="font-size:8.80px" text-anchor="middle">7</text>
<text x="508.76" y="237.00" class="t" style="font-size:8.80px" text-anchor="middle">9</text>
<text x="529.54" y="237.00" class="t" style="font-size:8.80px" text-anchor="middle">11</text>
<text x="410.60" y="228.15" class="t" style="font-size:8.80px" text-anchor="end">0</text>
<text x="410.60" y="182.10" class="t" style="font-size:8.80px" text-anchor="end">0.5</text>
<text x="410.60" y="136.05" class="t" style="font-size:8.80px" text-anchor="end">1</text>
<text x="477.60" y="247.90" class="s" style="font-size:10.05px" text-anchor="middle">ground cover types</text>
<text transform="translate(395.84,177.60) rotate(-90)" class="s" style="font-size:9.58px" text-anchor="middle">posterior probability</text>
</g>
<text x="37.5" y="46.8" class="s" text-anchor="middle">Posterior</text>
<text x="37.5" y="58.9" class="s" text-anchor="middle">probability</text>
<text x="37.5" y="70.8" class="s" text-anchor="middle">vector time1</text>
<text x="40.6" y="169.2" class="s" style="font-size:10px" text-anchor="middle">Posterior</text>
<text x="40.6" y="181.1" class="s" style="font-size:10px" text-anchor="middle">probability</text>
<text x="40.6" y="193.4" class="s" style="font-size:10px" text-anchor="middle">vector time2</text>
<text x="42.6" y="262" class="b" text-anchor="middle">Change Magnitude</text>
<text x="40.7" y="275.3" class="b" text-anchor="middle">Entropy</text>
<text x="158.3" y="260.1" class="b" text-anchor="middle">1.2684</text>
<text x="158.3" y="274.1" class="b" text-anchor="middle">0.9824</text>
<text x="159.0" y="285.9" class="b" text-anchor="middle">(a)</text>
<text x="313" y="260.1" class="b" text-anchor="middle">0.3614</text>
<text x="313" y="274.1" class="b" text-anchor="middle">2.1056</text>
<text x="314.5" y="285.2" class="b" text-anchor="middle">(b)</text>
<text x="468.2" y="258.3" class="b" text-anchor="middle">0.1436</text>
<text x="468.2" y="270.9" class="b" text-anchor="middle">2.6384</text>
<text x="469.8" y="282.9" class="b" text-anchor="middle">(c)</text>
</svg>
</body></html>
